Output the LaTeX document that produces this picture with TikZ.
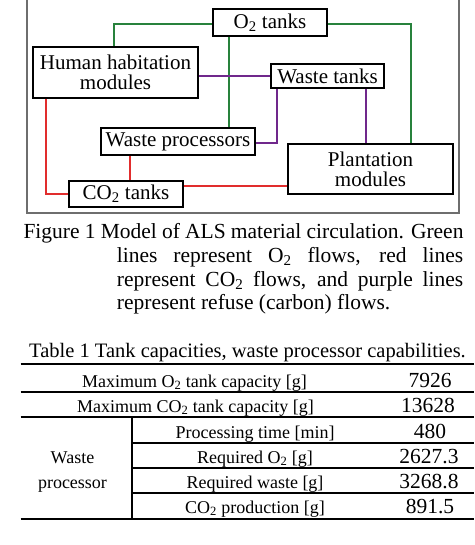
\documentclass[tikz,border=0pt]{standalone}
\usepackage{fontspec}
\setmainfont{Liberation Serif}
\definecolor{flowgreen}{RGB}{40,130,60}
\definecolor{flowred}{RGB}{225,45,45}
\definecolor{flowpurple}{RGB}{112,40,140}
\definecolor{framegray}{RGB}{110,110,110}
\begin{document}
\begin{tikzpicture}[x=1pt,y=-1pt,
  box/.style={draw=black,line width=1.6pt,inner sep=0pt,align=center,
    font=\fontsize{21}{20}\selectfont},
  gflow/.style={draw=flowgreen,line width=1.8pt},
  rflow/.style={draw=flowred,line width=1.8pt},
  pflow/.style={draw=flowpurple,line width=1.8pt},
  capline/.style={anchor=base west,inner sep=0pt,font=\fontsize{21.5}{24}\selectfont},
  tcell/.style={anchor=base,inner sep=0pt,font=\fontsize{18}{20}\selectfont},
  tnum/.style={anchor=base,inner sep=0pt,font=\fontsize{21.5}{22}\selectfont},
  thinrule/.style={line width=1.4pt},
  thickrule/.style={line width=2.6pt}]
\useasboundingbox (0,0) rectangle (474,545);
% frame
\draw[framegray,line width=1.5pt] (27,-5) -- (27,213) -- (459,213) -- (459,-5);
% boxes
\node[box,minimum width=114pt,minimum height=27pt] (o2) at (270,22.5) {O\textsubscript{2} tanks};
\node[box,minimum width=165pt,minimum height=51pt] (hum) at (115.5,72.5) {Human habitation\\modules};
\node[box,minimum width=113pt,minimum height=24pt] (wt) at (327.5,76) {Waste tanks};
\node[box,minimum width=154pt,minimum height=27pt] (wp) at (178,141.5) {Waste processors};
\node[box,minimum width=165pt,minimum height=50pt] (plant) at (370.5,169) {Plantation\\modules};
\node[box,minimum width=114pt,minimum height=26pt] (co2) at (126,194) {CO\textsubscript{2} tanks};
% green O2 flows
\draw[gflow] ([yshift=-1.5pt]o2.west) -| ([xshift=-1.5pt]hum.north);
\draw[gflow] ([yshift=-1.5pt]o2.east) -| ([xshift=40.5pt]plant.north);
\draw[gflow] ([xshift=-41pt]o2.south) -- ([xshift=-41pt]o2.south |- wp.north);
% purple flows
\draw[pflow] (hum.east |- wt.west) -- (wt.west);
\draw[pflow] ([xshift=-50.5pt]wt.south) |- ([yshift=-1.5pt]wp.east);
\draw[pflow] ([xshift=38.5pt]wt.south) -- ([xshift=38.5pt]wt.south |- plant.north);
% red flows
\draw[rflow] ([xshift=-69.5pt]hum.south) |- (co2.west);
\draw[rflow] ([xshift=-48pt]wp.south) -- ([xshift=-48pt]wp.south |- co2.north);
\draw[rflow] ([yshift=8pt]co2.east) -- ([yshift=8pt]co2.east -| plant.west);
% caption
\node[capline] (cap1) at (23.3,238) {\makebox[440pt][s]{Figure 1 Model of ALS material circulation. Green}};
\node[capline] (cap2) at (116.7,262) {\makebox[346.3pt][s]{lines represent O\textsubscript{2} flows, red lines}};
\node[capline] (cap3) at (116.7,286) {\makebox[346.3pt][s]{represent CO\textsubscript{2} flows, and purple lines}};
\node[capline] (cap4) at (116.7,309) {represent refuse (carbon) flows.};
% table
\node[anchor=base,inner sep=0pt,font=\fontsize{20.5}{22}\selectfont] (ttl) at (247.5,357) {Table 1 Tank capacities, waste processor capabilities.};
\draw[thickrule] (20.5,364) -- (474,364);
\node[tcell] (r1a) at (194.5,387) {Maximum O\textsubscript{2} tank capacity [g]};
\node[tnum] (r1b) at (430,387) {7926};
\draw[thinrule] (20.5,392) -- (474,392);
\node[tcell] (r2a) at (195.5,412) {Maximum CO\textsubscript{2} tank capacity [g]};
\node[tnum] (r2b) at (428,412) {13628};
\draw[thinrule] (20.5,417) -- (474,417);
\node[tcell] (r3a) at (255,438) {Processing time [min]};
\node[tnum] (r3b) at (430,438) {480};
\draw[thinrule] (132,443) -- (474,443);
\node[tcell] (r4a) at (255,463) {Required O\textsubscript{2} [g]};
\node[tnum] (r4b) at (429,463) {2627.3};
\draw[thinrule] (132,468) -- (474,468);
\node[tcell] (r5a) at (255,488) {Required waste [g]};
\node[tnum] (r5b) at (429,488) {3268.8};
\draw[thinrule] (132,493) -- (474,493);
\node[tcell] (r6a) at (255,513) {CO\textsubscript{2} production [g]};
\node[tnum] (r6b) at (430,513) {891.5};
\node[tcell] (wpa) at (72.5,463) {Waste};
\node[tcell] (wpb) at (72.5,488) {processor};
\draw[thinrule] (20.5,519) -- (474,519);
\draw[thinrule] (132,417) -- (132,519);
\end{tikzpicture}
\end{document}
